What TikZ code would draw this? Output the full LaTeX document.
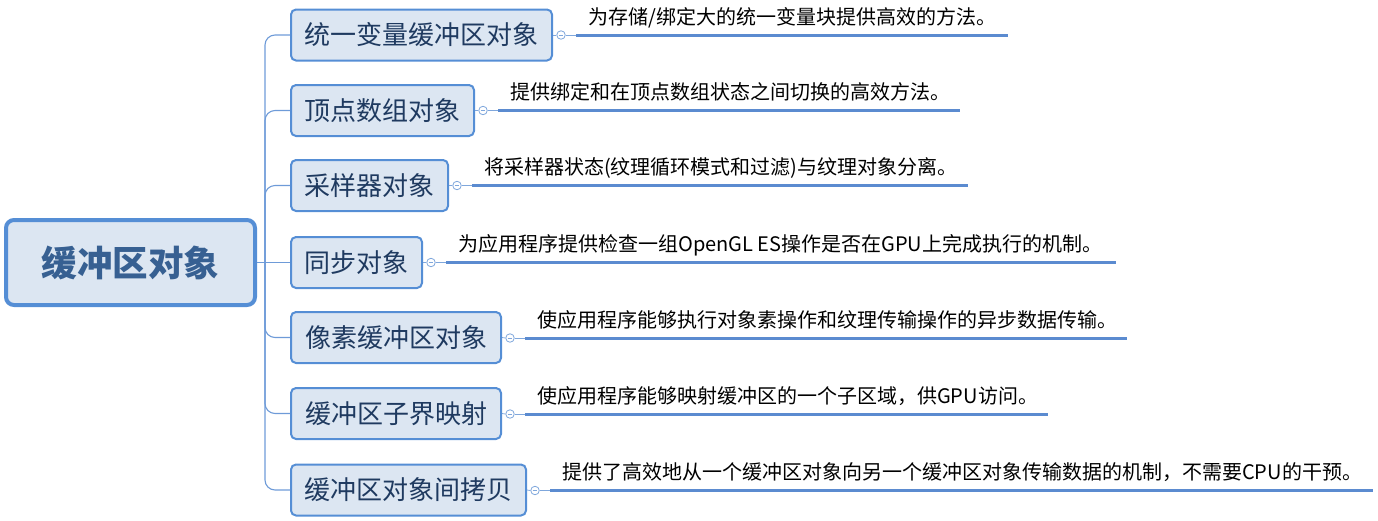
\documentclass[tikz,border=0pt]{standalone}
\usepackage{fontspec}
\setmainfont{Noto Sans CJK SC}
\definecolor{boxf}{HTML}{DCE6F2}
\definecolor{boxb}{HTML}{558ED5}
\definecolor{connc}{HTML}{6E9BD8}
\definecolor{linec}{HTML}{5B8BD0}
\definecolor{knobc}{HTML}{7FA7DC}
\definecolor{roottxt}{HTML}{376092}
\definecolor{topictxt}{HTML}{1F3A60}
\begin{document}
\begin{tikzpicture}[x=1pt,y=-1pt,
  conn/.style={draw=connc, line width=1.1pt},
  rootbox/.style={draw=boxb, fill=boxf, line width=4pt, rounded corners=8pt, text=roottxt,
    font=\fontsize{35.5}{40}\selectfont\bfseries, minimum width=249, minimum height=85, inner sep=0},
  topic/.style={draw=boxb, fill=boxf, line width=2pt, rounded corners=5pt, text=topictxt,
    font=\fontsize{26}{30}\selectfont, minimum height=51, inner sep=0},
  desc/.style={anchor=base west, font=\fontsize{20}{23}\selectfont, inner sep=0, text=black},
  underl/.style={draw=linec, line width=3pt},
  thin/.style={draw=knobc, line width=0.8pt},
  knob/.style={circle, draw=knobc, fill=white, line width=0.8pt, minimum size=8.5pt, inner sep=0,
    path picture={\draw[knobc, line width=0.8pt] ([xshift=-2.3pt]path picture bounding box.center) -- ([xshift=2.3pt]path picture bounding box.center);}}
]
\useasboundingbox (0,0) rectangle (1378,520);

% root
\node[rootbox] (root) at (130.5,262.5) {缓冲区对象};
\coordinate (tr) at (265,262.5);

% topics
\node[topic, minimum width=261] (b1) at (421.5,35) {统一变量缓冲区对象};
\node[topic, minimum width=183] (b2) at (382.5,110.5) {顶点数组对象};
\node[topic, minimum width=157] (b3) at (369.5,185.5) {采样器对象};
\node[topic, minimum width=131] (b4) at (356.5,262.5) {同步对象};
\node[topic, minimum width=210] (b5) at (396,337.5) {像素缓冲区对象};
\node[topic, minimum width=210] (b6) at (396,413.5) {缓冲区子界映射};
\node[topic, minimum width=235] (b7) at (408.5,490) {缓冲区对象间拷贝};

% trunk connectors
\draw[conn] (root.east) -- (b4.west);
\foreach \b in {b1,b2,b3,b5,b6,b7}
  \draw[conn, rounded corners=10pt] (tr) |- (\b.west);

% knobs, underlines, descriptions
\node[knob] (c1) at (561,35) {};
\coordinate (s1) at (576,35); \coordinate (e1) at (1008,35);
\node[desc] (d1) at (588,24) {为存储/绑定大的统一变量块提供高效的方法。};

\node[knob] (c2) at (483,110.5) {};
\coordinate (s2) at (498,110.5); \coordinate (e2) at (960,110.5);
\node[desc] (d2) at (510,99.5) {提供绑定和在顶点数组状态之间切换的高效方法。};

\node[knob] (c3) at (457,185.5) {};
\coordinate (s3) at (472,185.5); \coordinate (e3) at (968,185.5);
\node[desc] (d3) at (484,174.5) {将采样器状态(纹理循环模式和过滤)与纹理对象分离。};

\node[knob] (c4) at (431,262.5) {};
\coordinate (s4) at (446,262.5); \coordinate (e4) at (1116,262.5);
\node[desc] (d4) at (458,251.5) {为应用程序提供检查一组OpenGL ES操作是否在GPU上完成执行的机制。};

\node[knob] (c5) at (510,338) {};
\coordinate (s5) at (525,338); \coordinate (e5) at (1127,338);
\node[desc] (d5) at (537,327) {使应用程序能够执行对象素操作和纹理传输操作的异步数据传输。};

\node[knob] (c6) at (510,414) {};
\coordinate (s6) at (525,414); \coordinate (e6) at (1048,414);
\node[desc] (d6) at (537,403) {使应用程序能够映射缓冲区的一个子区域，供GPU访问。};

\node[knob] (c7) at (535,490.5) {};
\coordinate (s7) at (550,490.5); \coordinate (e7) at (1373,490.5);
\node[desc] (d7) at (562,479.5) {提供了高效地从一个缓冲区对象向另一个缓冲区对象传输数据的机制，不需要CPU的干预。};

\foreach \i in {1,...,7}{
  \draw[thin] (b\i.east) -- (c\i.west);
  \draw[thin] (c\i.east) -- (s\i);
  \draw[underl] (s\i) -- (e\i);
}
\end{tikzpicture}
\end{document}
